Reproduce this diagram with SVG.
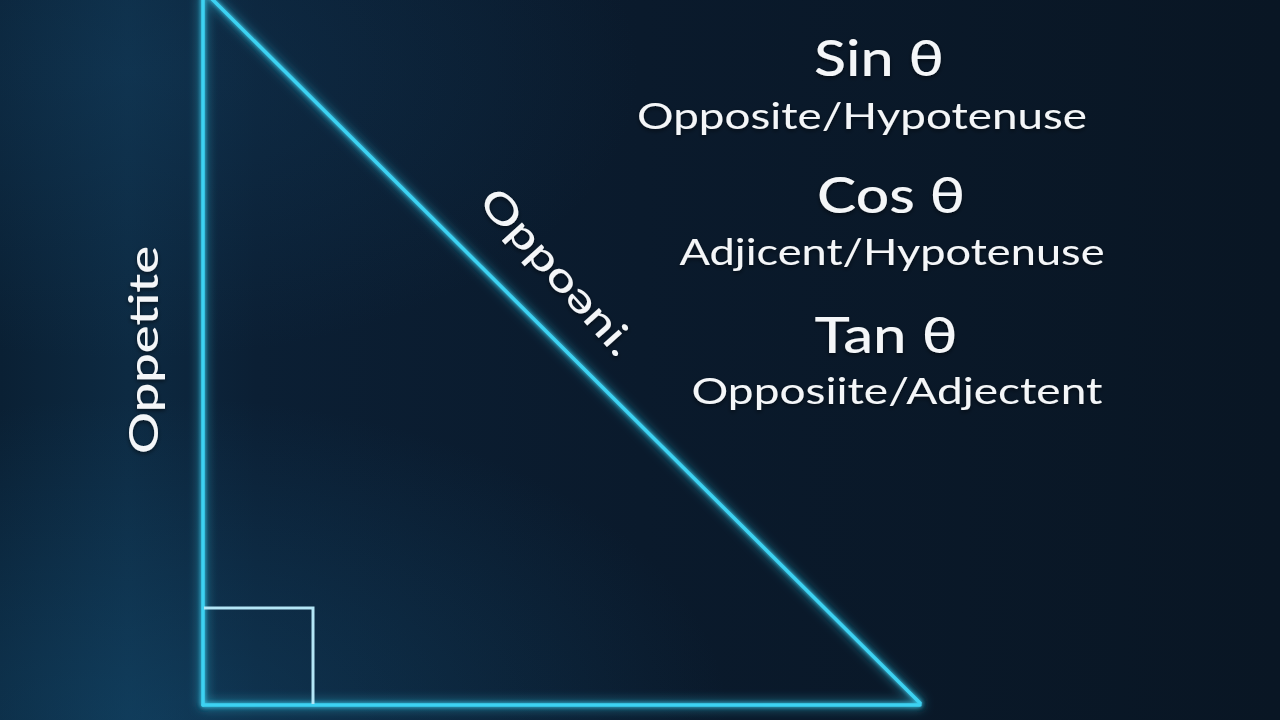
<svg xmlns="http://www.w3.org/2000/svg" width="1280" height="720" viewBox="0 0 1280 720">
<defs>
<linearGradient id="bg" x1="0" y1="0" x2="1" y2="0">
<stop offset="0" stop-color="#0a2034"/>
<stop offset="0.1" stop-color="#0d2a42"/>
<stop offset="0.2" stop-color="#0b1f34"/>
<stop offset="0.5" stop-color="#0a1a2c"/>
<stop offset="1" stop-color="#091624"/>
</linearGradient>
<radialGradient id="glowBL" cx="0.12" cy="1" r="0.45">
<stop offset="0" stop-color="#17608c" stop-opacity="0.35"/>
<stop offset="1" stop-color="#17608c" stop-opacity="0"/>
</radialGradient>
<radialGradient id="glowTL" cx="0.1" cy="0.1" r="0.4">
<stop offset="0" stop-color="#164a70" stop-opacity="0.3"/>
<stop offset="1" stop-color="#164a70" stop-opacity="0"/>
</radialGradient>
<filter id="glow" x="-20%" y="-20%" width="140%" height="140%">
<feGaussianBlur in="SourceGraphic" stdDeviation="6" result="b1"/>
<feGaussianBlur in="SourceGraphic" stdDeviation="2" result="b2"/>
<feMerge><feMergeNode in="b1"/><feMergeNode in="b2"/><feMergeNode in="SourceGraphic"/></feMerge>
</filter>
<filter id="tshadow" x="-10%" y="-30%" width="120%" height="160%">
<feDropShadow dx="0" dy="2" stdDeviation="2" flood-color="#000" flood-opacity="0.5"/>
</filter>
</defs>
<style>
.edge{fill:none;stroke:#3cd2f2;stroke-width:3.5;stroke-linecap:round;stroke-linejoin:round}
.sq{fill:none;stroke:#b4e6f6;stroke-width:3}
.t{font-family:Lato,"Liberation Sans",sans-serif;fill:#f4f6f8;text-anchor:middle}
.h{font-size:50px;font-weight:500}
.s{font-size:36px}
.lbl{font-family:Lato,"Liberation Sans",sans-serif;fill:#f4f6f8;font-size:40px;font-weight:500}
</style>
<rect width="1280" height="720" fill="url(#bg)"/>
<rect width="1280" height="720" fill="url(#glowTL)"/>
<rect width="1280" height="720" fill="url(#glowBL)"/>
<g id="connectors">
<g filter="url(#glow)">
<line class="edge" x1="203" y1="-5" x2="203" y2="705"/>
<line class="edge" x1="203" y1="705" x2="920" y2="705"/>
<line class="edge" x1="208" y1="-5" x2="920" y2="703"/>
</g>
<path class="sq" d="M204 608 H313 V704"/>
</g>
<g id="label-oppetite" filter="url(#tshadow)">
<text class="lbl" text-anchor="middle" transform="translate(158,350) rotate(-90)" textLength="208" lengthAdjust="spacingAndGlyphs">Oppetite</text>
</g>
<g id="label-hyp" filter="url(#tshadow)">
<text class="lbl" transform="translate(477,203) rotate(48)" textLength="210" lengthAdjust="spacingAndGlyphs">Oppoəni.</text>
</g>
<g id="sin" filter="url(#tshadow)">
<text class="t h" x="879" y="76" textLength="130" lengthAdjust="spacingAndGlyphs">Sin θ</text>
<text class="t s" x="862" y="129" textLength="450" lengthAdjust="spacingAndGlyphs">Opposite/Hypotenuse</text>
</g>
<g id="cos" filter="url(#tshadow)">
<text class="t h" x="891" y="213" textLength="148" lengthAdjust="spacingAndGlyphs">Cos θ</text>
<text class="t s" x="892" y="265" textLength="425" lengthAdjust="spacingAndGlyphs">Adjicent/Hypotenuse</text>
</g>
<g id="tan" filter="url(#tshadow)">
<text class="t h" x="886" y="353" textLength="143" lengthAdjust="spacingAndGlyphs">Tan θ</text>
<text class="t s" x="897" y="404" textLength="411" lengthAdjust="spacingAndGlyphs">Opposiite/Adjectent</text>
</g>
</svg>
